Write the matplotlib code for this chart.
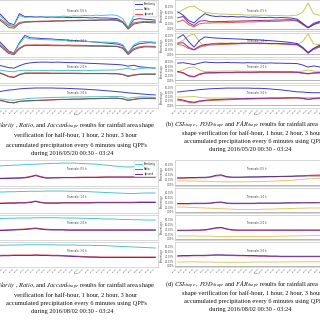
import matplotlib
matplotlib.use("Agg")
import matplotlib.pyplot as plt
from matplotlib.ticker import FuncFormatter

plt.rcParams['mathtext.fontset'] = 'stix'

TIMES = ["00:30","00:36","00:42","00:48","00:54","01:00","01:06","01:12","01:18","01:24",
         "01:30","01:36","01:42","01:48","01:54","02:00","02:06","02:12","02:18","02:24",
         "02:30","02:36","02:42","02:48","02:54","03:00","03:06","03:12","03:18","03:24"]
SCALES = ["Timescale: 0.5 h", "Timescale: 1.0 h", "Timescale: 2.0 h", "Timescale: 3.0 h"]

# ---- panel (a) 2016/05/20 : Similarity / Ratio / Jaccard
A1_blue = [.62,.45,.26,.20,.56,.46,.47,.45,.46,.44,.45,.44,.45,.43,.44,.43,.44,.42,.43,.42,.42,.41,.40,.30,.10,.36,.40,.38,.37,.35]
A1_cyan = [.56,.40,.22,.18,.50,.44,.45,.44,.45,.46,.45,.46,.48,.47,.49,.48,.50,.49,.51,.50,.51,.52,.50,.40,.12,.48,.50,.52,.48,.46]
A1_red  = [.44,.32,.18,.14,.28,.30,.31,.31,.32,.32,.33,.33,.33,.34,.34,.35,.35,.35,.36,.36,.36,.37,.36,.30,.10,.26,.29,.31,.31,.30]
A1_gray = [.40,.27,.12,.09,.24,.28,.29,.30,.30,.31,.31,.32,.32,.33,.33,.33,.34,.34,.34,.35,.35,.35,.34,.27,.06,.22,.26,.28,.27,.26]
A2_blue = [.72,.50,.25,.17,.60,.90,.80,.79,.77,.76,.75,.73,.72,.70,.69,.67,.66,.64,.62,.60,.58,.56,.54,.48,.17,.45,.55,.58,.60,.58]
A2_cyan = [.66,.45,.22,.15,.55,.82,.75,.74,.73,.72,.71,.70,.69,.68,.67,.66,.65,.64,.63,.62,.62,.61,.60,.52,.18,.50,.62,.65,.63,.62]
A2_red  = [.58,.40,.20,.15,.38,.50,.50,.51,.50,.51,.50,.50,.49,.50,.49,.49,.48,.48,.47,.47,.47,.46,.45,.40,.15,.35,.42,.45,.45,.44]
A2_gray = [.54,.35,.15,.10,.34,.47,.48,.48,.48,.48,.47,.47,.47,.47,.46,.46,.46,.45,.45,.45,.44,.44,.43,.36,.10,.30,.38,.42,.42,.41]
A3_blue = [.75,.70,.64,.62,.72,.80,.84,.86,.87,.87,.86,.87,.86,.85,.85,.84,.83,.82,.81,.80,.79,.78,.77,.75,.70,.74,.68,.66,.64,.62]
A3_cyan = [.55,.52,.48,.47,.52,.53,.52,.53,.52,.52,.53,.52,.52,.53,.52,.52,.53,.52,.53,.53,.54,.54,.55,.58,.62,.55,.60,.62,.63,.62]
A3_red  = [.46,.38,.28,.25,.36,.42,.42,.42,.42,.42,.41,.41,.41,.41,.41,.41,.40,.40,.40,.40,.40,.40,.39,.36,.30,.34,.37,.38,.38,.38]
A3_gray = [.44,.36,.26,.23,.34,.40,.40,.40,.40,.40,.40,.40,.40,.40,.40,.39,.39,.39,.39,.39,.39,.38,.38,.35,.27,.32,.35,.36,.36,.36]
A4_blue = [.70,.74,.78,.80,.83,.85,.86,.87,.87,.87,.87,.86,.86,.85,.84,.83,.82,.80,.79,.77,.75,.73,.71,.69,.66,.64,.62,.60,.58,.57]
A4_cyan = [.40,.38,.35,.34,.37,.40,.42,.43,.44,.45,.46,.46,.47,.47,.48,.48,.48,.49,.49,.49,.50,.50,.50,.49,.42,.46,.48,.48,.47,.46]
A4_red  = [.35,.30,.24,.22,.28,.30,.31,.32,.33,.34,.35,.36,.37,.37,.38,.38,.39,.40,.40,.41,.41,.42,.42,.40,.34,.38,.42,.43,.43,.43]
A4_gray = [.35,.31,.25,.23,.29,.31,.32,.33,.34,.35,.36,.37,.38,.38,.39,.39,.40,.41,.41,.42,.42,.43,.43,.40,.33,.37,.40,.41,.41,.40]

# ---- panel (b) 2016/05/20 : CSI / POD / FAR
B1_blue   = [.62,.50,.30,.21,.40,.55,.48,.45,.46,.44,.45,.43,.44,.42,.43,.42,.41,.42,.40,.41,.40,.39,.35,.20,.04,.15,.25,.28,.30,.29]
B1_yellow = [.57,.70,.80,.83,.70,.60,.57,.55,.54,.53,.52,.52,.51,.50,.50,.49,.50,.48,.49,.48,.47,.48,.50,.60,.94,.55,.50,.50,.49,.48]
B1_red    = [.25,.32,.15,.07,.18,.21,.21,.22,.22,.23,.23,.24,.24,.25,.25,.26,.26,.27,.27,.28,.29,.30,.28,.15,.03,.15,.21,.22,.22,.23]
B1_purple = [.40,.45,.22,.12,.28,.30,.26,.26,.27,.27,.28,.28,.29,.29,.30,.30,.31,.31,.32,.32,.33,.33,.31,.18,.05,.20,.26,.27,.27,.28]
B2_blue   = [.70,.85,.55,.31,.60,.75,.72,.70,.69,.68,.67,.66,.65,.64,.63,.62,.60,.59,.57,.55,.53,.50,.46,.30,.05,.25,.38,.40,.42,.40]
B2_yellow = [.49,.60,.80,.88,.55,.32,.45,.48,.49,.48,.49,.47,.48,.46,.47,.45,.46,.44,.45,.43,.44,.42,.42,.55,.88,.45,.42,.41,.40,.40]
B2_red    = [.42,.38,.25,.18,.30,.38,.40,.41,.42,.43,.44,.45,.46,.47,.47,.48,.47,.46,.46,.45,.44,.42,.40,.25,.05,.20,.30,.31,.32,.31]
B2_purple = [.48,.50,.30,.20,.35,.42,.44,.45,.46,.46,.47,.47,.48,.48,.48,.48,.47,.47,.47,.46,.45,.44,.42,.28,.08,.25,.33,.35,.35,.34]
B3_blue   = [.74,.76,.72,.68,.74,.79,.77,.76,.76,.77,.76,.76,.75,.76,.75,.75,.74,.75,.74,.74,.73,.73,.72,.66,.57,.62,.58,.55,.54,.53]
B3_yellow = [.36,.45,.55,.57,.45,.37,.38,.39,.40,.40,.40,.40,.39,.39,.39,.39,.38,.38,.38,.37,.37,.37,.36,.40,.44,.40,.38,.37,.37,.36]
B3_red    = [.36,.30,.18,.14,.24,.30,.31,.31,.32,.32,.32,.33,.33,.33,.33,.34,.34,.34,.34,.34,.34,.34,.33,.30,.27,.30,.31,.31,.31,.31]
B3_purple = [.38,.33,.20,.16,.27,.32,.33,.33,.34,.34,.34,.35,.35,.35,.35,.36,.36,.36,.36,.36,.36,.36,.35,.32,.29,.32,.33,.33,.33,.33]
B4_blue   = [.60,.63,.66,.68,.71,.73,.75,.76,.77,.78,.78,.78,.78,.78,.77,.77,.76,.74,.72,.70,.67,.64,.61,.60,.58,.57,.57,.56,.56,.56]
B4_yellow = [.38,.37,.39,.40,.36,.34,.33,.33,.33,.33,.33,.32,.32,.33,.33,.33,.33,.34,.34,.34,.34,.35,.35,.35,.36,.35,.35,.35,.35,.35]
B4_red    = [.24,.20,.14,.11,.17,.20,.22,.23,.24,.25,.26,.27,.28,.28,.29,.30,.30,.31,.31,.32,.32,.33,.33,.30,.26,.29,.31,.31,.31,.31]
B4_purple = [.28,.24,.17,.14,.20,.23,.25,.26,.27,.28,.29,.30,.30,.31,.31,.32,.32,.33,.33,.33,.34,.34,.34,.32,.28,.31,.33,.33,.33,.33]

# ---- panel (c) 2016/08/02 : Similarity / Ratio / Jaccard
C1_cyan   = [.77,.78,.79,.80,.81,.82,.83,.84,.85,.86,.87,.87,.88,.88,.88,.87,.86,.85,.84,.82,.80,.78,.76,.74,.73,.74,.75,.76,.77,.77]
C1_red    = [.30,.30,.31,.31,.32,.33,.37,.42,.36,.32,.32,.33,.33,.33,.33,.34,.34,.34,.34,.35,.35,.35,.35,.35,.35,.35,.35,.35,.35,.35]
C1_purple = [.28,.29,.29,.30,.30,.31,.35,.40,.34,.30,.31,.31,.32,.32,.32,.32,.33,.33,.33,.33,.34,.34,.34,.34,.34,.34,.34,.34,.34,.34]
C2_cyan   = [.84,.84,.85,.85,.86,.86,.87,.87,.87,.88,.88,.88,.88,.87,.87,.86,.86,.85,.84,.83,.82,.81,.80,.79,.78,.78,.79,.80,.80,.80]
C2_red    = [.40,.40,.41,.41,.42,.42,.44,.48,.43,.41,.41,.41,.42,.42,.42,.42,.42,.42,.43,.43,.43,.43,.43,.43,.43,.43,.44,.44,.44,.44]
C2_purple = [.38,.38,.39,.39,.40,.40,.42,.46,.41,.39,.39,.39,.40,.40,.40,.40,.40,.40,.41,.41,.41,.41,.41,.41,.41,.41,.42,.42,.42,.42]
C3_cyan   = [.86,.86,.87,.87,.88,.88,.88,.89,.89,.89,.89,.89,.88,.88,.88,.87,.87,.86,.86,.85,.84,.84,.83,.82,.82,.81,.81,.80,.80,.80]
C3_red    = [.40,.40,.41,.42,.43,.44,.46,.48,.45,.43,.42,.42,.42,.41,.41,.41,.41,.41,.41,.41,.41,.41,.41,.41,.41,.41,.41,.41,.41,.41]
C3_purple = [.38,.38,.39,.40,.41,.42,.44,.46,.43,.41,.40,.40,.40,.39,.39,.39,.39,.39,.39,.39,.39,.39,.39,.39,.39,.39,.39,.39,.39,.39]
C4_cyan   = [.87,.87,.88,.88,.88,.89,.89,.89,.89,.89,.89,.88,.88,.88,.88,.87,.87,.87,.86,.86,.85,.84,.83,.82,.81,.80,.79,.78,.77,.76]
C4_red    = [.46,.47,.47,.48,.48,.48,.48,.49,.48,.48,.47,.47,.46,.45,.44,.43,.42,.41,.41,.40,.40,.40,.40,.40,.40,.40,.40,.40,.40,.40]
C4_purple = [.44,.45,.45,.46,.46,.46,.46,.47,.46,.46,.45,.45,.44,.43,.42,.41,.40,.39,.39,.38,.38,.38,.38,.38,.38,.38,.38,.38,.38,.38]

# ---- panel (d) 2016/08/02 : CSI / POD / FAR
D1_purple = [.28,.28,.29,.29,.30,.30,.32,.38,.40,.33,.31,.31,.31,.32,.32,.32,.33,.33,.33,.34,.34,.34,.35,.35,.36,.36,.36,.36,.36,.36]
D1_red    = [.26,.26,.27,.27,.28,.28,.30,.35,.37,.31,.29,.29,.30,.30,.30,.31,.31,.32,.32,.33,.34,.35,.36,.37,.38,.39,.40,.40,.40,.40]
D1_yellow = [.16,.16,.15,.15,.14,.14,.13,.13,.12,.12,.12,.12,.12,.12,.13,.13,.13,.14,.15,.16,.17,.18,.20,.22,.24,.25,.26,.27,.28,.28]
D2_purple = [.35,.35,.35,.36,.36,.36,.37,.40,.41,.37,.36,.36,.36,.36,.36,.37,.37,.37,.37,.37,.38,.38,.38,.38,.38,.38,.38,.38,.38,.38]
D2_red    = [.33,.33,.33,.34,.34,.34,.35,.38,.39,.35,.34,.34,.34,.34,.34,.35,.35,.35,.35,.36,.36,.37,.37,.38,.38,.38,.39,.39,.39,.39]
D2_yellow = [.20,.20,.19,.18,.17,.16,.15,.14,.13,.12,.11,.10,.10,.10,.10,.10,.11,.11,.12,.13,.13,.14,.15,.15,.16,.16,.16,.16,.16,.16]
D3_purple = [.36,.36,.36,.37,.37,.38,.42,.46,.48,.42,.38,.37,.37,.37,.37,.37,.37,.37,.37,.37,.37,.37,.37,.37,.37,.37,.37,.37,.37,.37]
D3_red    = [.34,.34,.34,.35,.35,.36,.40,.44,.46,.40,.36,.35,.35,.35,.35,.35,.35,.35,.35,.35,.35,.35,.35,.35,.35,.35,.35,.35,.35,.35]
D3_yellow = [.12,.12,.12,.12,.11,.11,.11,.10,.10,.10,.10,.10,.10,.10,.10,.10,.10,.10,.11,.11,.11,.12,.12,.13,.13,.14,.14,.14,.14,.14]
D4_purple = [.42,.43,.43,.44,.44,.44,.45,.46,.46,.45,.45,.44,.44,.43,.43,.42,.42,.41,.41,.40,.40,.40,.40,.40,.40,.40,.40,.40,.40,.40]
D4_red    = [.40,.41,.41,.42,.42,.42,.43,.44,.44,.43,.43,.42,.42,.41,.41,.40,.40,.39,.39,.38,.38,.38,.38,.38,.38,.38,.38,.38,.38,.38]
D4_yellow = [.16,.16,.17,.17,.16,.16,.16,.15,.15,.15,.15,.15,.15,.15,.16,.16,.16,.16,.16,.16,.16,.17,.17,.17,.17,.17,.17,.17,.17,.17]

CAP_A = [r"(a) $Similarity$ , $Ratio$, and $Jaccard_{shape}$ results for rainfall area shape",
         "verification for half-hour, 1 hour, 2 hour, 3 hour",
         "accumulated precipitation every 6 minutes using QPFs",
         "during 2016/05/20 00:30 - 03:24"]
CAP_B = [r"(b) $CSI_{shape}$ , $POD_{shape}$ and $FAR_{shape}$ results for rainfall area",
         "shape verification for half-hour, 1 hour, 2 hour, 3 hour",
         "accumulated precipitation every 6 minutes using QPFs",
         "during 2016/05/20 00:30 - 03:24"]
CAP_C = [r"(c) $Similarity$ , $Ratio$, and $Jaccard_{shape}$ results for rainfall area shape",
         "verification for half-hour, 1 hour, 2 hour, 3 hour",
         "accumulated precipitation every 6 minutes using QPFs",
         "during 2016/08/02 00:30 - 03:24"]
CAP_D = [r"(d) $CSI_{shape}$ , $POD_{shape}$ and $FAR_{shape}$ results for rainfall area",
         "shape verification for half-hour, 1 hour, 2 hour, 3 hour",
         "accumulated precipitation every 6 minutes using QPFs",
         "during 2016/08/02 00:30 - 03:24"]

LAB_AC = ["Similarity", "Ratio", "Jaccard"]

PANEL_A = [[A1_blue, A1_cyan, A1_red, A1_gray], [A2_blue, A2_cyan, A2_red, A2_gray],
           [A3_blue, A3_cyan, A3_red, A3_gray], [A4_blue, A4_cyan, A4_red, A4_gray]]
PANEL_B = [[B1_yellow, B1_red, B1_purple, B1_blue], [B2_yellow, B2_red, B2_purple, B2_blue],
           [B3_yellow, B3_red, B3_purple, B3_blue], [B4_yellow, B4_red, B4_purple, B4_blue]]
PANEL_C = [[C1_cyan, C1_red, C1_purple], [C2_cyan, C2_red, C2_purple],
           [C3_cyan, C3_red, C3_purple], [C4_cyan, C4_red, C4_purple]]
PANEL_D = [[D1_yellow, D1_red, D1_purple], [D2_yellow, D2_red, D2_purple],
           [D3_yellow, D3_red, D3_purple], [D4_yellow, D4_red, D4_purple]]

COL_A = ["#3b3bc4", "#4fc4c8", "#e0504c", "#606060"]
COL_B = ["#c8c858", "#e0603c", "#8a2a9a", "#3b3bc4"]
COL_C = ["#4fc4c8", "#d84a5a", "#6a2a8a"]
COL_D = ["#e0c868", "#e06a80", "#5a2a8a"]

W = H = 320
fig = plt.figure(figsize=(3.2, 3.2), dpi=100)

def add_ax(l, t, r, b):
    return fig.add_axes([l / W, 1 - b / H, (r - l) / W, (b - t) / H])

TOP_ROWS = [(0, 31), (33, 57), (59, 83), (85, 108)]
BOT_ROWS = [(160, 186), (188, 213), (215, 240), (242, 267)]
X_LEFT = (-5, 158)
X_RIGHT = (175, 338)
pct = FuncFormatter(lambda v, p: "%.2f%%" % (v * 100))
x = list(range(len(TIMES)))

def draw(panel, cols, xr, rows, ylims, right, legend):
    for k, (series, (t, b)) in enumerate(zip(panel, rows)):
        ax = add_ax(xr[0], t, xr[1], b)
        for s, c in zip(series, cols):
            ax.plot(x, s, color=c, lw=0.7)
        ax.set_xlim(-0.5, len(TIMES) - 0.5)
        ax.set_ylim(*ylims[k])
        ax.axhline(0, color="#9a9a9a", lw=0.5)
        for sp in ax.spines.values():
            sp.set_color("#c8c8c8")
            sp.set_linewidth(0.5)
        ax.tick_params(length=0, pad=0.5, labelsize=1.8, colors="#555555")
        ax.set_xticks(x)
        if k == 3:
            ax.set_xticklabels(TIMES, rotation=45, ha="right", fontsize=1.6)
            ax.set_xlabel("Time", fontsize=1.6, labelpad=0.4, color="#444444")
        else:
            ax.set_xticklabels([])
        if right:
            ax.set_yticks([0, 0.2, 0.4, 0.6, 0.8])
            ax.yaxis.set_major_formatter(pct)
            ax.set_ylabel("Percentage", fontsize=1.8, labelpad=0.6, color="#444444")
        else:
            ax.set_yticks([])
        ax.text(0.5, 0.66, SCALES[k], transform=ax.transAxes, ha="center",
                va="center", fontsize=1.8, color="#333333")
        if legend and k == 0:
            ax.legend(ax.lines[:3], LAB_AC, loc="upper right", fontsize=1.8,
                      frameon=True, edgecolor="#aaaaaa", handlelength=2.5,
                      borderpad=0.4, labelspacing=0.3).get_frame().set_linewidth(0.3)

YL_A = [(0, 1)] * 4
YL_B = [(-0.08, 1.05), (-0.12, 0.92), (-0.12, 0.92), (-0.12, 0.92)]
YL_D = [(-0.05, 1.0)] * 4

draw(PANEL_A, COL_A, X_LEFT, TOP_ROWS, YL_A, False, True)
draw(PANEL_B, COL_B, X_RIGHT, TOP_ROWS, YL_B, True, False)
draw(PANEL_C, COL_C, X_LEFT, BOT_ROWS, YL_A, False, True)
draw(PANEL_D, COL_D, X_RIGHT, BOT_ROWS, YL_D, True, False)

def caption(lines, cxs, ys, fs):
    for s, cx, yy in zip(lines, cxs, ys):
        fig.text(cx / W, 1 - yy / H, s, ha="center", va="center", fontsize=fs,
                 family="Liberation Serif", color="#111111")

caption(CAP_A, [68, 76, 76, 72], [126, 136, 145, 153], 4.6)
caption(CAP_B, [242, 252, 254, 250], [125, 133, 141, 149], 4.6)
caption(CAP_C, [68, 76, 76, 72], [286, 296, 304, 312], 4.6)
caption(CAP_D, [242, 252, 254, 250], [285, 293, 301, 309], 4.6)

fig.savefig("out.png", dpi=100, facecolor="white")
